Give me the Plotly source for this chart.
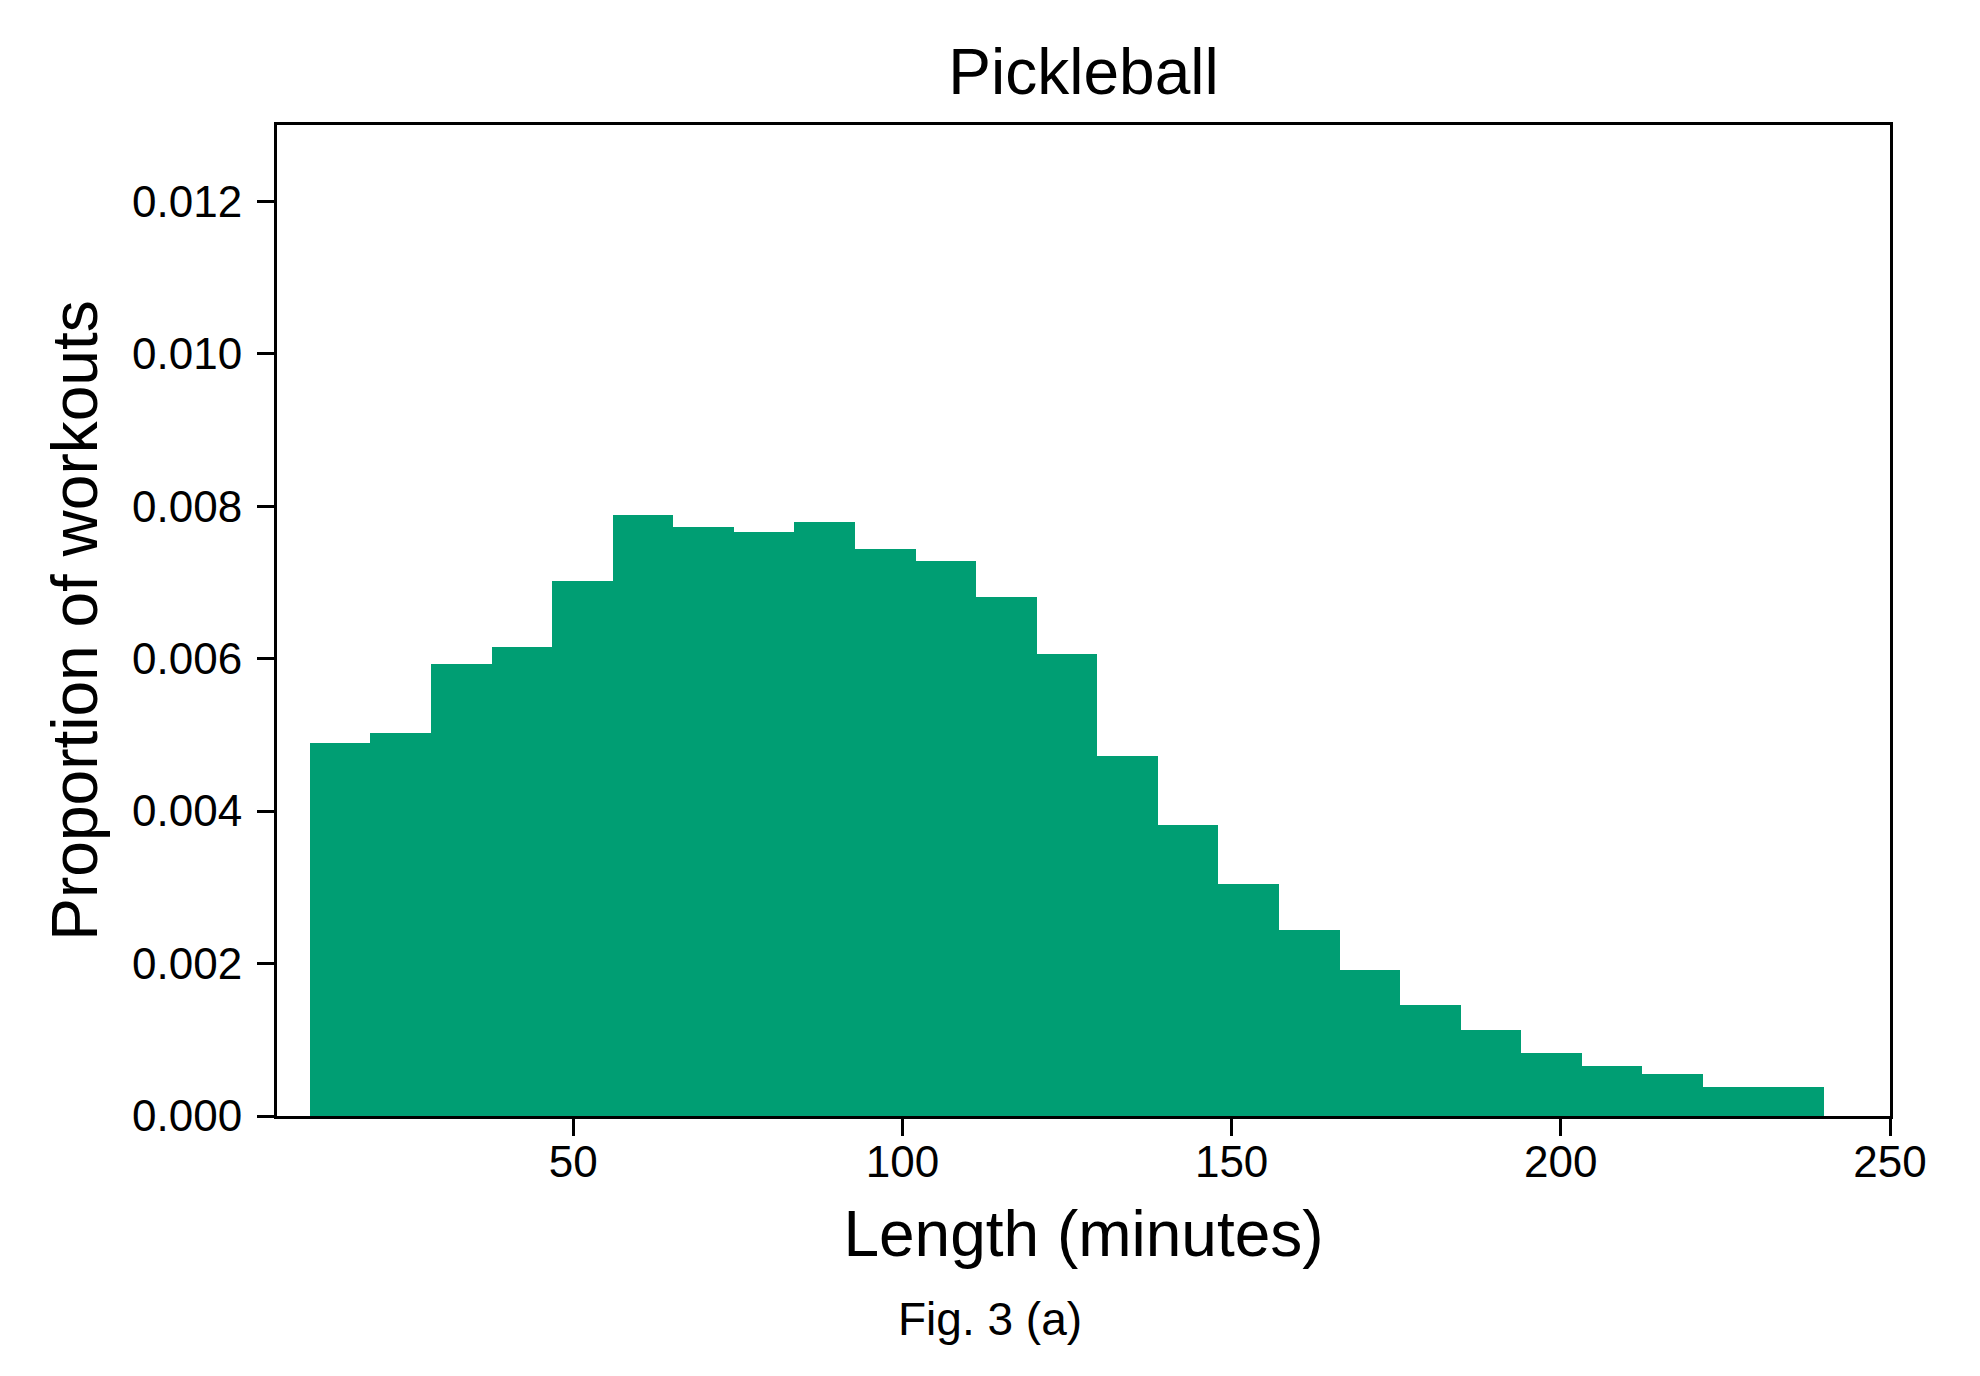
## Histogram of pickleball workout lengths (Fig. 3 a), redrawn with plotly.
## Bar heights.

import plotly.graph_objects as go

# bin edges in minutes (25 equal bins between 10 and 240)
bin_edges = [10.0, 19.2, 28.4, 37.6, 46.8, 56.0, 65.2, 74.4, 83.6, 92.8,
             102.0, 111.2, 120.4, 129.6, 138.8, 148.0, 157.2, 166.4, 175.6,
             184.8, 194.0, 203.2, 212.4, 221.6, 230.8, 240.0]

# proportion of workouts per bin
proportion = [0.00489, 0.00502, 0.00593, 0.00615, 0.00702, 0.00789, 0.00773,
              0.00766, 0.00779, 0.00744, 0.00728, 0.00681, 0.00606, 0.00472,
              0.00382, 0.00305, 0.00244, 0.00192, 0.00145, 0.00113, 0.00083,
              0.00065, 0.00055, 0.00038, 0.00038]

x_ticks = [50, 100, 150, 200, 250]
y_ticks = [0.000, 0.002, 0.004, 0.006, 0.008, 0.010, 0.012]


def main():
    font_family = 'Liberation Sans, Arial, Helvetica, sans-serif'

    # bars sit between consecutive edges
    centers = [(a + b) / 2 for a, b in zip(bin_edges[:-1], bin_edges[1:])]
    widths = [b - a for a, b in zip(bin_edges[:-1], bin_edges[1:])]

    fig = go.Figure(go.Bar(x=centers, y=proportion, width=widths,
                           marker=dict(color='#009E73', line=dict(width=0)),
                           showlegend=False))

    axis_common = dict(showline=True, linecolor='black', linewidth=3,
                       mirror=True, ticks='outside', ticklen=17, tickwidth=3,
                       tickcolor='black', showgrid=False, zeroline=False,
                       tickfont=dict(size=44, color='black'))

    fig.update_layout(
        width=1980, height=1376,
        paper_bgcolor='white', plot_bgcolor='white',
        font=dict(family=font_family, color='black'),
        margin=dict(l=269, r=98, t=117, b=268, autoexpand=False),
        bargap=0,
        title=dict(text='Pickleball', xref='paper', x=0.5, xanchor='center',
                   y=1 - 64 / 1376, yanchor='middle',
                   font=dict(size=64, color='black')),
        xaxis=dict(range=[5, 250], tickvals=x_ticks, ticklabelstandoff=-12,
                   title=dict(text='Length (minutes)', standoff=27,
                              font=dict(size=64)),
                   **axis_common),
        yaxis=dict(range=[0, 0.013], tickvals=y_ticks, tickformat='.3f',
                   ticklabelstandoff=6,
                   title=dict(text='Proportion of workouts', standoff=14,
                              font=dict(size=64)),
                   **axis_common),
    )

    # caption under the axis
    fig.add_annotation(text='Fig. 3 (a)', xref='paper', yref='paper',
                       x=0.4418, y=-0.2046, xanchor='center', yanchor='middle',
                       showarrow=False, font=dict(size=46, color='black'))

    fig.write_html('out.html')


if __name__ == '__main__':
    main()
